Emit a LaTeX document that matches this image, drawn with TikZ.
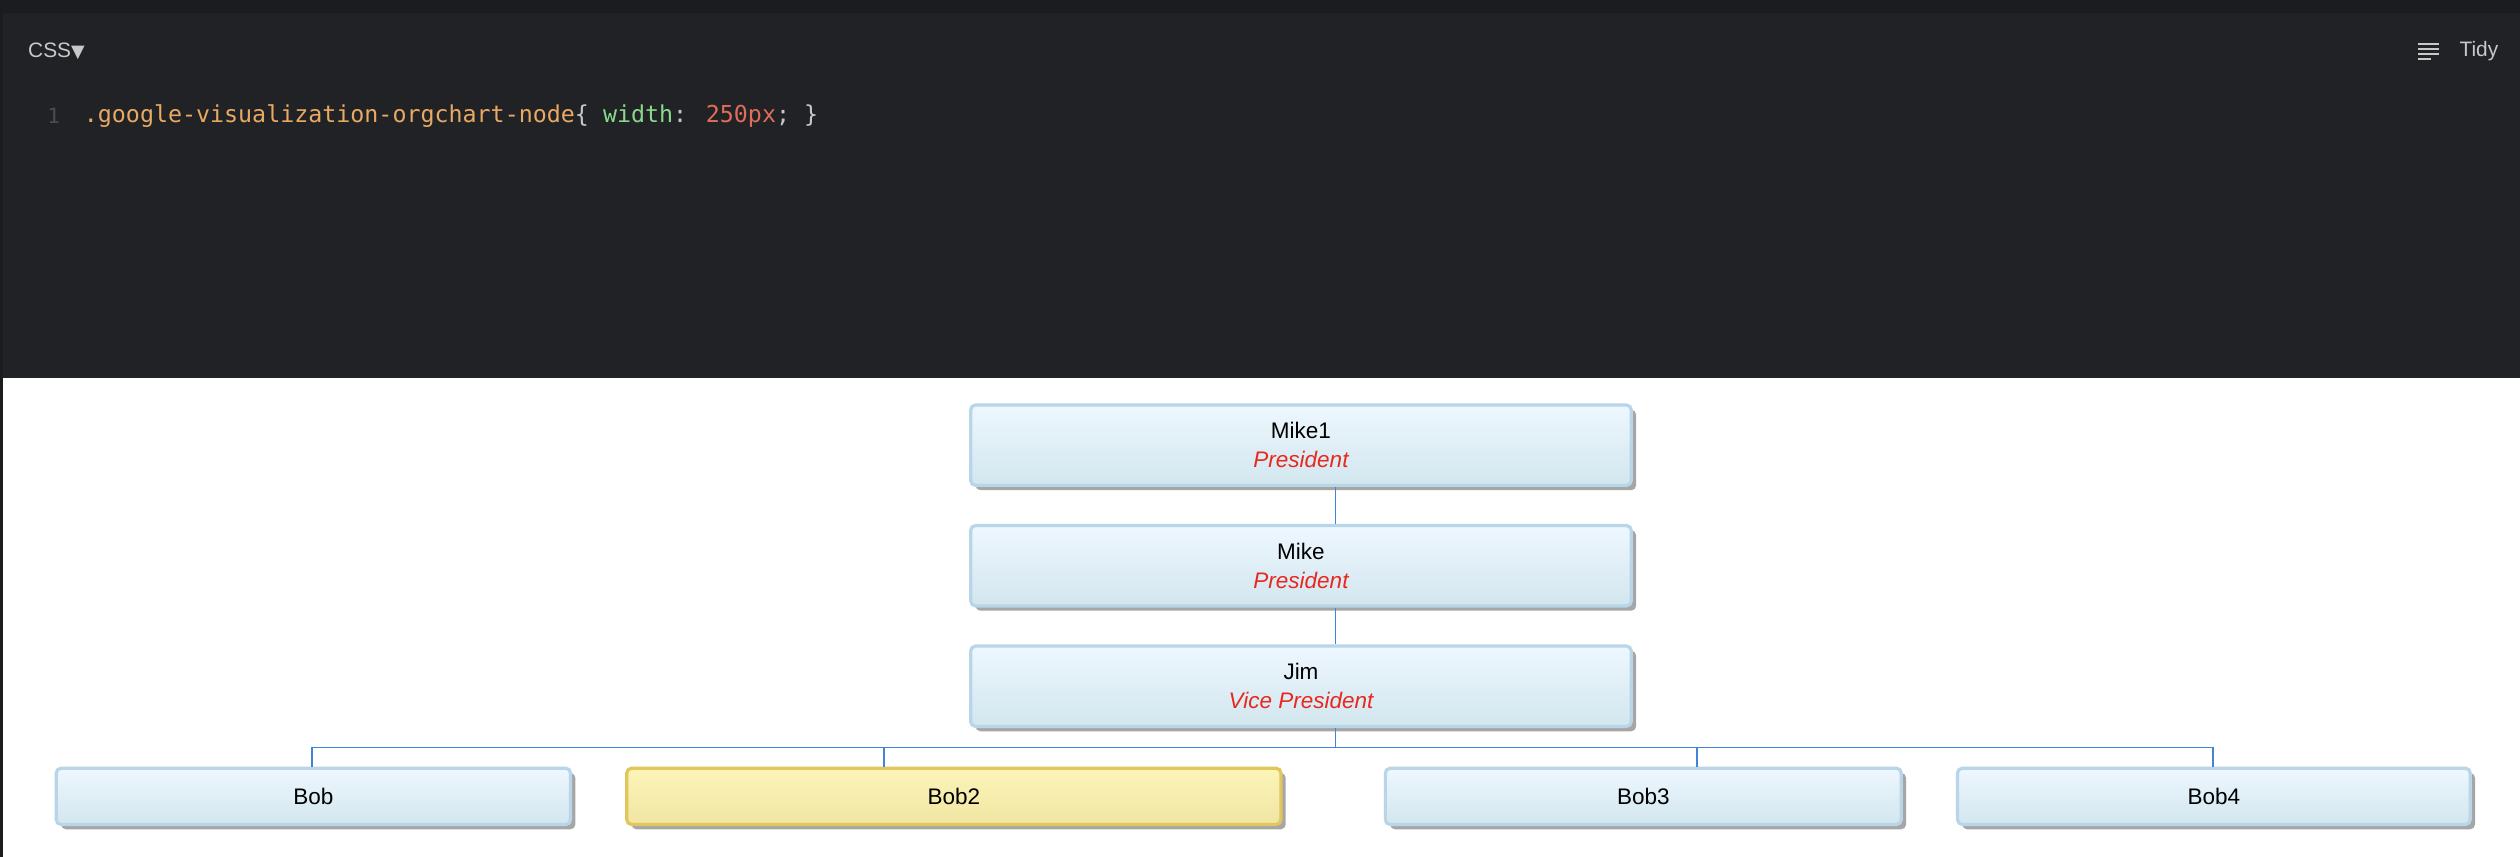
\documentclass[tikz,border=0pt]{standalone}
\usepackage{fontspec}
\setmainfont{Liberation Sans}
\newfontfamily\codefont{DejaVu Sans Mono}
\newfontfamily\symfont{DejaVu Sans}
\usetikzlibrary{shadows}
\definecolor{hdr}{HTML}{212226}
\definecolor{hdrtop}{HTML}{1B1C1F}
\definecolor{cOrange}{HTML}{E8A963}
\definecolor{cGreen}{HTML}{8AD88A}
\definecolor{cRed}{HTML}{E06C5A}
\definecolor{cGrey}{HTML}{C8C8C8}
\definecolor{bTop}{HTML}{EEF7FF}
\definecolor{bBot}{HTML}{D2E6EE}
\definecolor{bBorder}{HTML}{B8D6E8}
\definecolor{yTop}{HTML}{FCF5B8}
\definecolor{yBot}{HTML}{F0E5A2}
\definecolor{yBorder}{HTML}{E0C65C}
\definecolor{link}{HTML}{3F86D9}
\definecolor{title}{HTML}{E8281E}
\begin{document}
\begin{tikzpicture}[x=1pt,y=-1pt,
  box/.style={rounded corners=3pt,draw=bBorder,line width=2pt,top color=bTop,bottom color=bBot,
    drop shadow={shadow xshift=3pt,shadow yshift=-3pt,fill=black,opacity=0.35},
    minimum height=50pt,minimum width=411pt,align=center,font=\fontsize{14}{19}\selectfont,inner sep=0pt},
  sbox/.style={box,minimum height=35pt},
  ybox/.style={sbox,draw=yBorder,top color=yTop,bottom color=yBot},
  lnk/.style={draw=link,line width=1pt}]
\useasboundingbox (0,0) rectangle (1568,533);
\fill[white] (0,0) rectangle (1568,533);
\fill[hdr] (0,0) rectangle (1568,235);
\fill[hdrtop] (0,0) rectangle (1568,8);
\fill[hdrtop] (0,0) rectangle (2,533);
\node[anchor=west,text=cGrey,font=\fontsize{13}{15}\selectfont] (css) at (14,32) {CSS{\symfont\fontsize{11}{13}\selectfont ▼}};
\node[anchor=east,text=cGrey,font=\fontsize{13}{15}\selectfont] (tidy) at (1558,32) {Tidy};
\node[anchor=east,text=cGrey,inner sep=0pt] (tidyicon) at (1518,32) {\tikz[x=1pt,y=1pt]{\foreach \i/\w in {0/13,3/13,6/13,9/8}{\fill (0,-\i) rectangle (\w,-\i-1.2);}}};
\node[anchor=west,text=gray!60!black,font=\codefont\fontsize{13}{15}\selectfont] (ln) at (26,72) {1};
\node[anchor=west,font=\codefont\fontsize{14.5}{17}\selectfont,inner sep=0pt] (code) at (52,72)
 {\textcolor{cOrange}{.google-visualization-orgchart-node}\textcolor{cGrey}{ \{ }\textcolor{cGreen}{width}\textcolor{cGrey}{: }\textcolor{cRed}{250px}\textcolor{cGrey}{; \}}};
\node[box] (mike1) at (809.5,277) {Mike1\\[-1pt]{\color{title}\itshape President}};
\node[box] (mike) at (809.5,352) {Mike\\[-1pt]{\color{title}\itshape President}};
\node[box] (jim) at (809.5,427) {Jim\\[-1pt]{\color{title}\itshape Vice President}};
\node[sbox,minimum width=320pt] (bob) at (195,495.5) {Bob};
\node[ybox,minimum width=407pt] (bob2) at (593.5,495.5) {Bob2};
\node[sbox,minimum width=321pt] (bob3) at (1022.5,495.5) {Bob3};
\node[sbox,minimum width=319pt] (bob4) at (1377.5,495.5) {Bob4};
\coordinate (bus) at (831,465);
\path[lnk] (mike1.south -| bus) -- (mike.north -| bus);
\path[lnk] (mike.south -| bus) -- (jim.north -| bus);
\path[lnk] (jim.south -| bus) -- (bus);
\path[lnk] (bob.north -| 194,0) |- (bus) -| (bob4.north -| 1377,0);
\path[lnk] (bob2.north -| 550,0) -- (bus -| 550,0);
\path[lnk] (bob3.north -| 1056,0) -- (bus -| 1056,0);
\end{tikzpicture}
\end{document}
